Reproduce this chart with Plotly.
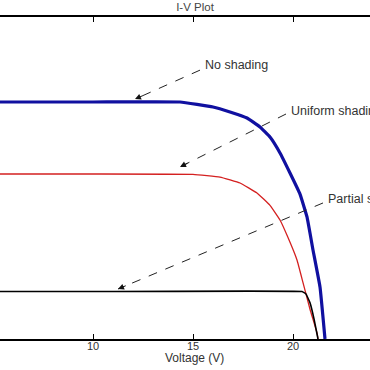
import plotly.graph_objects as go

# Data (voltage in V, current in A)
v_none = [5.0, 10.0, 14.35, 16.0, 16.85, 17.7, 18.35, 18.85, 19.35, 19.85, 20.35, 20.7, 21.0, 21.35, 21.6]
i_none = [2.944, 2.944, 2.944, 2.882, 2.820, 2.745, 2.634, 2.509, 2.311, 2.062, 1.80, 1.516, 1.106, 0.646, 0.0]

v_unif = [5.0, 10.0, 15.0, 16.35, 17.35, 18.2, 18.85, 19.35, 19.75, 20.2, 20.5, 20.85, 21.2, 21.25]
i_unif = [2.05, 2.05, 2.045, 2.012, 1.938, 1.814, 1.660, 1.478, 1.260, 0.981, 0.70, 0.370, 0.075, 0.0]

v_part = [5.0, 10.0, 20.45, 20.65, 20.85, 21.05, 21.25]
i_part = [0.59, 0.59, 0.59, 0.56, 0.45, 0.25, 0.0]

labels = ["No shading", "Uniform shading", "Partial shading"]
label_pos = [(15.5, 3.40), (19.8, 2.83), (21.65, 1.74)]
arrow_start = [(15.35, 3.34), (19.65, 2.795), (21.5, 1.69)]
arrow_tip = [(12.1, 2.98), (14.35, 2.137), (11.25, 0.621)]

x_ticks = [5, 10, 15, 20]

fig = go.Figure()
fig.add_trace(go.Scatter(x=v_none, y=i_none, mode="lines",
                         line=dict(color="#1010a0", width=3.2, shape="spline", smoothing=0.3)))
fig.add_trace(go.Scatter(x=v_unif, y=i_unif, mode="lines",
                         line=dict(color="#d42020", width=1.3, shape="spline", smoothing=0.3)))
fig.add_trace(go.Scatter(x=v_part, y=i_part, mode="lines",
                         line=dict(color="black", width=1.6, shape="spline", smoothing=0.2)))

for lab, lp, s, t in zip(labels, label_pos, arrow_start, arrow_tip):
    fig.add_annotation(x=lp[0], y=lp[1], text=lab, showarrow=False, xanchor="left",
                       yanchor="middle", font=dict(size=12.5, color="#333", family="Liberation Sans"))
    fig.add_shape(type="line", x0=s[0], y0=s[1], x1=t[0], y1=t[1],
                  line=dict(color="#222", width=1, dash="dash"))
    dxv = s[0] - t[0]
    dyv = s[1] - t[1]
    # arrowhead: small offset in pixels along line direction
    px = dxv * 20.0
    py = -dyv * 80.5
    n = (px ** 2 + py ** 2) ** 0.5
    fig.add_annotation(x=t[0], y=t[1], ax=px / n * 10, ay=py / n * 10, text="",
                       showarrow=True, arrowhead=2, arrowsize=1.2, arrowwidth=1,
                       arrowcolor="#111")

fig.add_annotation(x=0.527, y=-0.059, xref="paper", yref="paper", text="Voltage (V)",
                   showarrow=False, font=dict(size=12, color="#333", family="Liberation Sans"),
                   yanchor="middle")

fig.update_layout(
    width=370, height=370,
    margin=dict(l=0, r=0, t=17, b=31, autoexpand=False),
    paper_bgcolor="white", plot_bgcolor="white",
    showlegend=False,
    title=dict(text="I-V Plot", x=0.527, xanchor="center", y=0.981, yanchor="middle",
               font=dict(size=11.5, color="#444", family="Liberation Sans")),
    xaxis=dict(range=[5.35, 23.85], tickvals=x_ticks, ticks="inside", ticklen=5,
               tickcolor="black", showline=True, linecolor="black", linewidth=1.5,
               mirror="ticks", showgrid=False, zeroline=False, automargin=False,
               ticklabelstandoff=-4,
               tickfont=dict(size=11, color="#333", family="Liberation Sans")),
    yaxis=dict(range=[0, 4], showline=False, showgrid=False, zeroline=False,
               showticklabels=False, ticks="", automargin=False),
)

fig.write_html("out.html", config={"displayModeBar": False},
               post_script="document.body.style.margin='0';document.body.style.padding='0';")
